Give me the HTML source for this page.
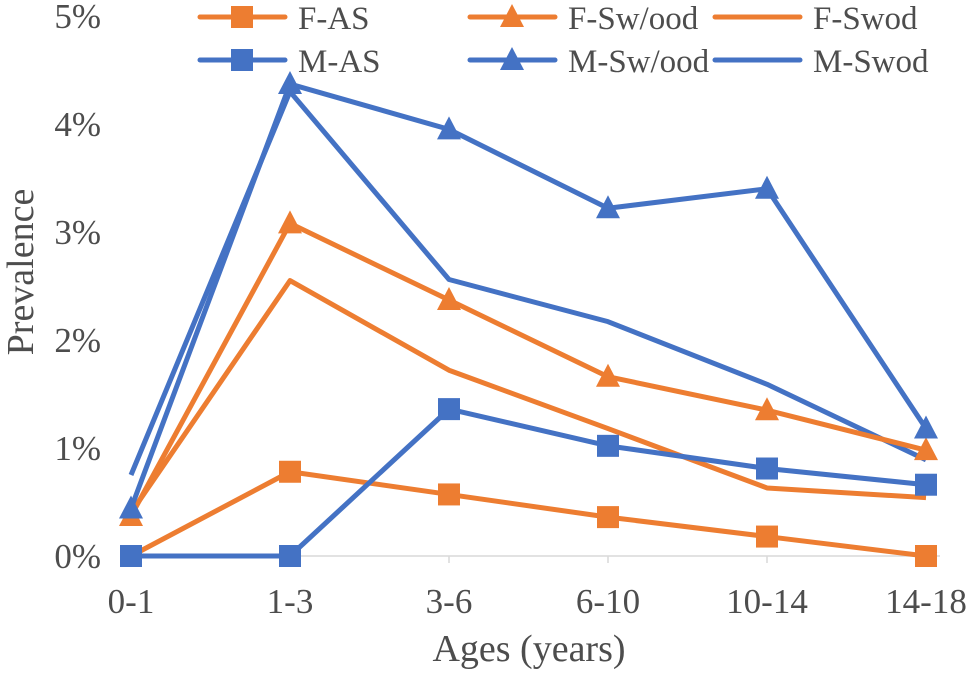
<!DOCTYPE html>
<html><head><meta charset="utf-8"><style>
body{margin:0;background:#fff}
svg text{font-family:"Liberation Serif",serif;fill:#4d4d4d}
</style></head><body>
<svg id="c" width="969" height="670"></svg>
<script>
const categories=["0-1","1-3","3-6","6-10","10-14","14-18"];
const yTicks=[0,1,2,3,4,5];
const seriesNames=["F-AS","F-Sw/ood","F-Swod","M-AS","M-Sw/ood","M-Swod"];
const fAS=[0,0.78,0.57,0.36,0.18,0];
const fSwood=[0.37,3.08,2.37,1.66,1.35,0.98];
const fSwod=[0.4,2.55,1.72,1.18,0.63,0.54];
const mAS=[0,0,1.36,1.02,0.81,0.66];
const mSwood=[0.44,4.37,3.95,3.22,3.40,1.18];
const mSwod=[0.75,4.30,2.56,2.17,1.59,0.89];
const ORANGE="#ed7d31",BLUE="#4472c4";
const svg=document.getElementById('c');
const NS="http://www.w3.org/2000/svg";
function mk(t,a,p){const e=document.createElementNS(NS,t);for(const k in a)e.setAttribute(k,a[k]);(p||svg).appendChild(e);return e;}
const x=i=>131+i*159;
const y=v=>556-v*108;
yTicks.forEach(v=>{
 const t=mk('text',{x:101,y:y(v)+12,'text-anchor':'end','font-size':35});t.textContent=v+'%';
 
 
});
categories.forEach((c,i)=>{
 const l=mk('line',{x1:x(i),x2:x(i),y1:556,y2:563,stroke:'#d9d9d9','stroke-width':1.5});
 
 
 const t=mk('text',{x:x(i),y:613,'text-anchor':'middle','font-size':35});t.textContent=c;
 
 
});
const ax=mk('line',{x1:120,x2:940,y1:556,y2:556,stroke:'#d9d9d9','stroke-width':1.5});


let t=mk('text',{x:529,y:661,'text-anchor':'middle','font-size':38});t.textContent='Ages (years)';


t=mk('text',{x:0,y:0,'text-anchor':'middle','font-size':38,transform:'translate(33,272) rotate(-90)'});t.textContent='Prevalence';


function marker(kind,cx,cy,col,g){
 if(kind==='sq'){const m=mk('rect',{x:cx-11,y:cy-11,width:22,height:22,fill:col},g);}
 else if(kind==='tri'){const m=mk('polygon',{points:`${cx},${cy-13} ${cx+12},${cy+10} ${cx-12},${cy+10}`,fill:col},g);}
}
const defs=[[fSwod,ORANGE,null,'f-swod'],[mSwod,BLUE,null,'m-swod'],[fAS,ORANGE,'sq','f-as'],[fSwood,ORANGE,'tri','f-swood'],[mAS,BLUE,'sq','m-as'],[mSwood,BLUE,'tri','m-swood']];
defs.forEach(([d,col,mkind,name])=>{
 const g=mk('g',{});
 
 
 const p=mk('polyline',{points:d.map((v,i)=>x(i)+','+y(v)).join(' '),fill:'none',stroke:col,'stroke-width':5,'stroke-linejoin':'round'},g);
 
 
 if(mkind)d.forEach((v,i)=>marker(mkind,x(i),y(v),col,g));
});
const legCols=[200,470,715],legRows=[17,60];
const legDefs=[[ORANGE,'sq'],[ORANGE,'tri'],[ORANGE,null],[BLUE,'sq'],[BLUE,'tri'],[BLUE,null]];
seriesNames.forEach((n,k)=>{
 const cx=legCols[k%3],cy=legRows[Math.floor(k/3)];
 const g=mk('g',{});
 
 
 mk('line',{x1:cx,x2:cx+85,y1:cy,y2:cy,stroke:legDefs[k][0],'stroke-width':5,'stroke-linecap':'round'},g);
 if(legDefs[k][1])marker(legDefs[k][1],cx+42,cy,legDefs[k][0],g);
 const tt=mk('text',{x:cx+98,y:cy+12,'font-size':33},g);tt.textContent=n;
});
</script>
</body></html>
